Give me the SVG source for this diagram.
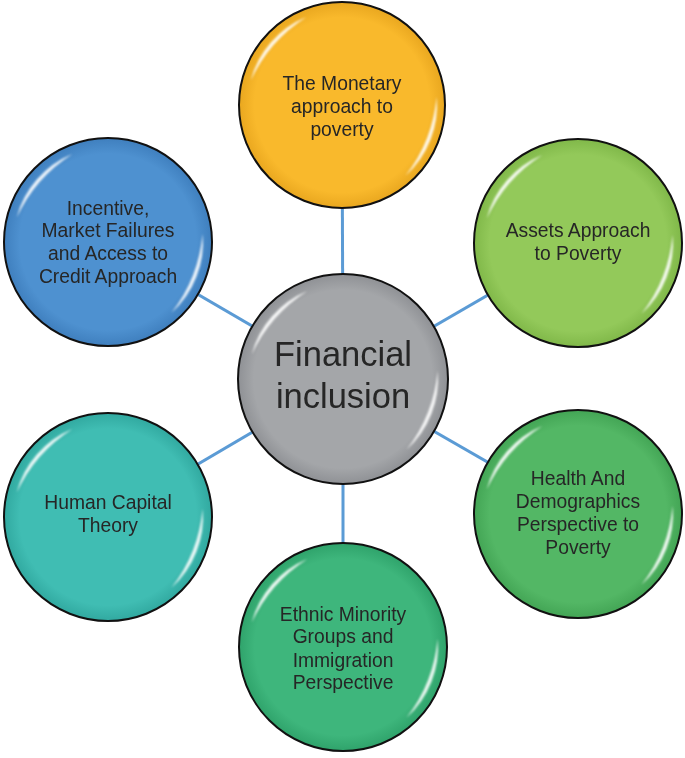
<svg xmlns="http://www.w3.org/2000/svg" xmlns:xlink="http://www.w3.org/1999/xlink" width="685" height="758" viewBox="0 0 685 758">
<style>
.node{stroke:#111;stroke-width:2}
.lbl{font-family:"Liberation Sans",Arial,sans-serif;font-size:19.3px;fill:#262626;text-anchor:middle}
.big{font-family:"Liberation Sans",Arial,sans-serif;font-size:34.5px;fill:#262626;text-anchor:middle}
.conn line{stroke:#5B9BD5;stroke-width:3}
</style>
<defs>
<filter id="blur" x="-20%" y="-20%" width="140%" height="140%"><feGaussianBlur stdDeviation="1.2"/></filter>
<radialGradient id="gY" cx="50%" cy="50%" r="50%"><stop offset="0.85" stop-color="#F9B92C"/><stop offset="1" stop-color="#E9A71F"/></radialGradient>
<radialGradient id="gB" cx="50%" cy="50%" r="50%"><stop offset="0.85" stop-color="#4E91D0"/><stop offset="1" stop-color="#3F7FBE"/></radialGradient>
<radialGradient id="gLG" cx="50%" cy="50%" r="50%"><stop offset="0.85" stop-color="#93C95A"/><stop offset="1" stop-color="#80B849"/></radialGradient>
<radialGradient id="gG" cx="50%" cy="50%" r="50%"><stop offset="0.85" stop-color="#53B765"/><stop offset="1" stop-color="#43A555"/></radialGradient>
<radialGradient id="gEG" cx="50%" cy="50%" r="50%"><stop offset="0.85" stop-color="#3EB67C"/><stop offset="1" stop-color="#2FA36B"/></radialGradient>
<radialGradient id="gT" cx="50%" cy="50%" r="50%"><stop offset="0.85" stop-color="#40BDB3"/><stop offset="1" stop-color="#31A9A0"/></radialGradient>
<radialGradient id="gGr" cx="50%" cy="50%" r="50%"><stop offset="0.85" stop-color="#A4A6A9"/><stop offset="1" stop-color="#8F9195"/></radialGradient>
<g id="gloss" fill="#fff" filter="url(#blur)">
<path d="M -91.3 -24.5 A 95 95 0 0 1 -35.6 -88.1 A 150 150 0 0 0 -91.3 -24.5 Z" opacity="0.9"/>
<path d="M 94.6 -8.3 A 95 95 0 0 1 63.6 70.6 A 150 150 0 0 0 94.6 -8.3 Z" opacity="0.9"/>
</g>
</defs>
<rect width="685" height="758" fill="#fff"/>
<g id="connectors" class="conn">
<line x1="343" y1="379" x2="342" y2="105"/>
<line x1="343" y1="379" x2="108" y2="242"/>
<line x1="343" y1="379" x2="578" y2="243"/>
<line x1="343" y1="379" x2="108" y2="517"/>
<line x1="343" y1="379" x2="578" y2="514"/>
<line x1="343" y1="379" x2="343" y2="647"/>
</g>
<g id="monetary" transform="translate(342,105)">
<circle class="node" r="103" fill="url(#gY)"/>
<use xlink:href="#gloss"/>
<text class="lbl"><tspan x="0" y="-15">The Monetary</tspan><tspan x="0" y="8">approach to</tspan><tspan x="0" y="31">poverty</tspan></text>
</g>
<g id="incentive" transform="translate(108,242)">
<circle class="node" r="104" fill="url(#gB)"/>
<use xlink:href="#gloss"/>
<text class="lbl"><tspan x="0" y="-27">Incentive,</tspan><tspan x="0" y="-5">Market Failures</tspan><tspan x="0" y="18">and Access to</tspan><tspan x="0" y="41">Credit Approach</tspan></text>
</g>
<g id="assets" transform="translate(578,243)">
<circle class="node" r="104" fill="url(#gLG)"/>
<use xlink:href="#gloss"/>
<text class="lbl"><tspan x="0" y="-6">Assets Approach</tspan><tspan x="0" y="17">to Poverty</tspan></text>
</g>
<g id="human" transform="translate(108,517)">
<circle class="node" r="104" fill="url(#gT)"/>
<use xlink:href="#gloss"/>
<text class="lbl"><tspan x="0" y="-8">Human Capital</tspan><tspan x="0" y="15">Theory</tspan></text>
</g>
<g id="health" transform="translate(578,514)">
<circle class="node" r="104" fill="url(#gG)"/>
<use xlink:href="#gloss"/>
<text class="lbl"><tspan x="0" y="-29">Health And</tspan><tspan x="0" y="-6">Demographics</tspan><tspan x="0" y="17">Perspective to</tspan><tspan x="0" y="40">Poverty</tspan></text>
</g>
<g id="ethnic" transform="translate(343,647)">
<circle class="node" r="104" fill="url(#gEG)"/>
<use xlink:href="#gloss"/>
<text class="lbl"><tspan x="0" y="-26">Ethnic Minority</tspan><tspan x="0" y="-4">Groups and</tspan><tspan x="0" y="20">Immigration</tspan><tspan x="0" y="42">Perspective</tspan></text>
</g>
<g id="financial" transform="translate(343,379)">
<circle class="node" r="105" fill="url(#gGr)"/>
<use xlink:href="#gloss"/>
<text class="big"><tspan x="0" y="-13">Financial</tspan><tspan x="0" y="29">inclusion</tspan></text>
</g>
</svg>
